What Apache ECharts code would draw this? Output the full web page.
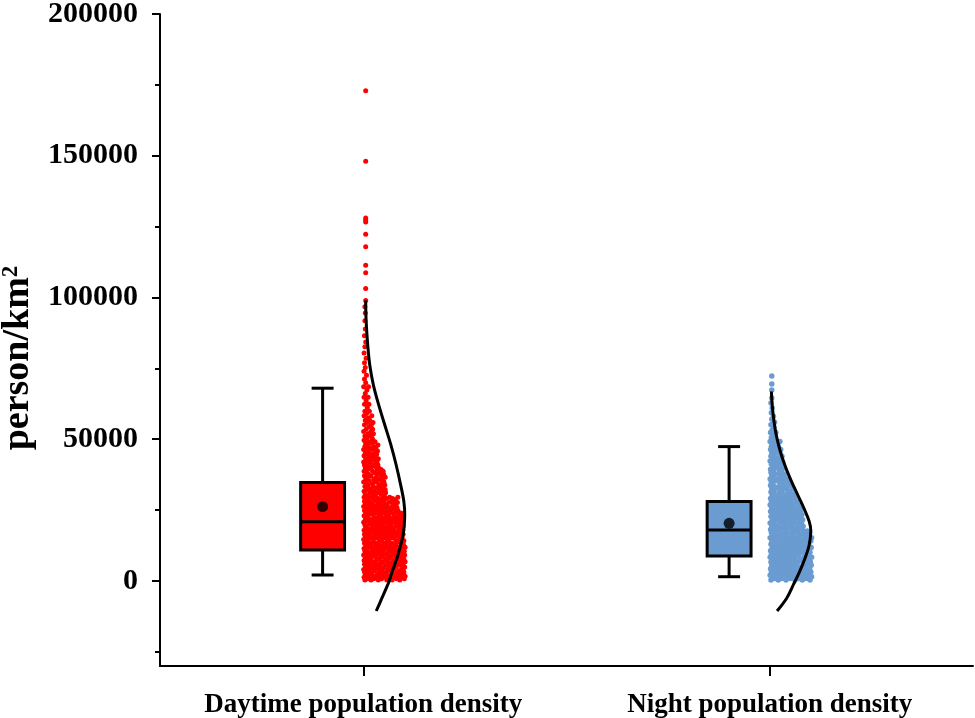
<!doctype html>
<html>
<head>
<meta charset="UTF-8">
<title>Population density</title>
<script src="https://cdn.jsdelivr.net/npm/echarts@6/dist/echarts.min.js"></script>
<style>
  html, body { margin: 0; padding: 0; background: #fff; }
  #main { width: 975px; height: 718px; }
</style>
</head>
<body>
<div id="main"></div>
<script>
// categories and summary stats (min, Q1, median, Q3, max)
var categories = ['Daytime population density', 'Night population density'];
var boxStats = [
  [2100, 10900, 20900, 34700, 68000],
  [1500, 8800, 18000, 28000, 47400]
];
var means = [26200, 20350];
var boxColors = ['#ff0000', '#6a9bd1'];
var yTicks = [0, 50000, 100000, 150000, 200000];
var yMinorTicks = [-25000, 25000, 75000, 125000, 175000];

// fitted curves: [offset from category centre in 1/1000 of a step, value]
var dayCurve = [
  [6, 98900], [7, 92000], [11, 83300], [16, 76200], [25, 69100], [38, 62100],
  [53, 55000], [68, 48000], [81, 40900], [92, 33900], [100, 27900], [102, 23000],
  [99, 17000], [93, 13200], [84, 8500], [71, 3200], [63, -350],
  [58, -2100], [44, -6700], [32, -10600]
];
var nightCurve = [
  [4, 66850], [6, 62100], [10, 56800], [16, 51500], [25, 46200], [37, 40900],
  [52, 35600], [69, 30300], [86, 25000], [97, 21000], [101, 17800],
  [97, 12700], [87, 8100], [74, 3500], [59, -1060], [42, -6000], [18, -10600]
];

// raw points, grouped by value: [value, [jitter offsets in 1/1000 of a step]]
var dayRows = [
  [380, [4, 19, 37, 58, 71, 90]], [820, [11, 26, 45, 63, 82, 101]],
  [1290, [2, 16, 33, 52, 77, 95]], [1700, [8, 29, 41, 66, 86, 103]],
  [2210, [5, 22, 48, 60, 79, 97]], [2650, [13, 35, 54, 72, 91]],
  [3120, [3, 18, 40, 57, 84, 100]], [3580, [9, 27, 46, 68, 88]],
  [4040, [1, 21, 38, 61, 75, 94]], [4490, [14, 31, 50, 70, 99]],
  [4960, [6, 24, 43, 64, 81, 102]], [5430, [10, 34, 55, 73, 92]],
  [5870, [3, 17, 39, 59, 85, 98]], [6340, [12, 28, 47, 67, 89]],
  [6800, [7, 23, 44, 62, 78, 103]], [7250, [2, 32, 53, 74, 93]],
  [7730, [15, 36, 56, 83, 100]], [8190, [5, 20, 42, 65, 80, 96]],
  [8640, [11, 30, 49, 69, 90]], [9120, [1, 25, 45, 60, 87, 102]],
  [9580, [8, 19, 38, 58, 76, 95]], [10030, [13, 33, 52, 71, 91]],
  [10490, [4, 27, 46, 66, 84, 101]], [10960, [9, 22, 41, 63, 79, 97]],
  [11420, [2, 35, 54, 73, 88]], [11880, [16, 29, 48, 68, 92, 103]],
  [12350, [6, 21, 43, 61, 82]], [12810, [10, 37, 57, 77, 99]],
  [13270, [3, 18, 31, 50, 70, 94]], [13740, [12, 26, 47, 64, 86]],
  [14200, [7, 40, 59, 80, 100]], [14660, [1, 23, 44, 62, 89]],
  [15130, [14, 32, 51, 72, 96]], [15590, [5, 20, 39, 58, 78, 93]],
  [16060, [10, 28, 48, 67, 85]], [16520, [3, 35, 55, 74, 98]],
  [16980, [15, 25, 42, 61, 81, 95]], [17450, [7, 30, 50, 69, 90]],
  [17910, [2, 19, 37, 57, 76, 97]], [18380, [12, 27, 46, 65, 87]],
  [18840, [6, 34, 53, 71, 92]], [19310, [9, 22, 41, 60, 80, 98]],
  [19770, [4, 31, 49, 68, 88]], [20240, [16, 24, 44, 63, 83, 96]],
  [20700, [1, 36, 56, 75, 91]], [21170, [11, 29, 47, 66, 86]],
  [21630, [5, 21, 40, 59, 79, 97]], [22100, [13, 33, 52, 73, 94]],
  [22560, [8, 26, 45, 64, 84]], [23030, [2, 38, 57, 77, 98]],
  [23490, [14, 23, 43, 61, 89]], [23960, [6, 30, 50, 70, 93]],
  [24420, [10, 19, 39, 58, 81]], [24890, [3, 27, 46, 67, 85]],
  [25350, [12, 35, 54, 76]], [25820, [7, 22, 41, 62, 83]],
  [26280, [1, 30, 49, 71]], [26750, [15, 25, 44, 58, 80]],
  [27210, [5, 36, 53, 74]], [27680, [10, 20, 40, 63, 84]],
  [28140, [3, 32, 50, 69]], [28610, [13, 26, 45, 79]],
  [29070, [8, 37, 57, 72]], [29540, [2, 21, 48, 65, 85]],
  [30010, [11, 30, 52]], [30560, [5, 24, 43]], [31100, [16, 35, 55]],
  [31650, [2, 27, 47]], [32190, [9, 20, 40, 54]], [32740, [14, 33, 50]],
  [33280, [4, 25, 44]], [33830, [12, 38, 53]], [34370, [7, 22, 46]],
  [34920, [1, 30, 51]], [35460, [15, 36, 48]], [36010, [6, 26, 42]],
  [36550, [10, 32, 54]], [37100, [3, 19, 45]], [37640, [13, 37, 50]],
  [38190, [8, 28, 41]], [38730, [2, 23, 49]], [39280, [11, 34, 44]],
  [39820, [5, 18, 38]], [40370, [14, 29]], [40910, [3, 22, 36]],
  [41460, [9, 31]], [42000, [1, 18, 34]], [42550, [12, 27]],
  [43090, [6, 21, 37]], [43640, [15, 30]], [44180, [2, 25]],
  [44730, [10, 19, 33]], [45270, [5, 28]], [45820, [13, 35]],
  [46360, [1, 23]], [46910, [8, 17, 31]], [47450, [4, 26]],
  [48000, [11, 36]], [48540, [6, 20]], [49090, [14, 29]], [49630, [2, 24]],
  [50300, [9, 22]], [51100, [4, 17]], [51900, [12, 25]], [52700, [1, 19]],
  [53500, [7, 23]], [54300, [14]], [55100, [3, 20]], [55900, [10, 24]],
  [56700, [5, 16]], [57500, [12]], [58300, [2, 21]], [59100, [8]],
  [59900, [4, 15]], [61200, [10]], [62300, [3, 14]], [63600, [7]],
  [64800, [2, 12]], [66100, [5]], [67400, [9]], [68500, [1, 13]],
  [69900, [6]], [71200, [3]], [72600, [8]], [74000, [2]], [75300, [5]],
  [77000, [3]], [78600, [7]], [80400, [2]], [82600, [4]], [84300, [6]],
  [86500, [3]], [88900, [5]], [91800, [4]], [94500, [5]], [96700, [4]],
  [98900, [6]], [103200, [6]], [108700, [6]], [111400, [6]], [117900, [6]],
  [122300, [6]], [126600, [6]], [127300, [6]], [128000, [6]], [148100, [6]],
  [172900, [6]]
];
var nightRows = [
  [350, [3, 21, 40, 62, 80, 99]], [900, [12, 30, 51, 71, 90]],
  [1480, [6, 24, 45, 57, 85, 103]], [2050, [1, 17, 36, 66, 78, 96]],
  [2630, [9, 28, 48, 60, 89]], [3200, [4, 20, 39, 73, 83, 101]],
  [3780, [14, 33, 53, 68, 93]], [4350, [2, 25, 43, 59, 80, 98]],
  [4930, [10, 31, 50, 74, 88]], [5500, [5, 19, 37, 64, 82, 102]],
  [6080, [15, 27, 46, 58, 92]], [6650, [3, 35, 55, 70, 86, 100]],
  [7230, [11, 22, 41, 63, 79, 95]], [7800, [7, 30, 52, 75, 90]],
  [8380, [1, 18, 38, 61, 84, 103]], [8950, [13, 26, 47, 67, 97]],
  [9530, [4, 34, 56, 72, 87]], [10100, [9, 21, 42, 60, 81, 99]],
  [10680, [2, 29, 49, 69, 91]], [11250, [16, 36, 54, 76, 94]],
  [11830, [6, 23, 44, 65, 83, 102]], [12400, [10, 32, 51, 71, 89]],
  [12980, [3, 19, 40, 58, 78, 96]], [13550, [14, 27, 47, 68, 93]],
  [14130, [5, 35, 55, 74, 86, 101]], [14700, [11, 24, 43, 62, 80]],
  [15280, [1, 30, 50, 70, 90, 103]], [15850, [8, 20, 39, 59, 77, 95]],
  [16430, [15, 33, 53, 73, 88]], [17000, [4, 26, 45, 64, 83, 98]],
  [17580, [12, 37, 56, 69, 92]], [18150, [2, 22, 41, 61, 80]],
  [18730, [9, 29, 48, 67, 75]], [19300, [5, 18, 36, 55, 82]],
  [19880, [13, 31, 50, 70]], [20450, [1, 25, 44, 63, 78]],
  [21030, [10, 34, 53, 72]], [21600, [6, 20, 39, 58, 81]],
  [22180, [15, 28, 47, 66]], [22750, [3, 35, 56, 74]],
  [23330, [11, 23, 42, 61, 79]], [23900, [7, 30, 51, 69]],
  [24480, [2, 19, 38, 57, 76]], [25050, [12, 27, 46, 65]],
  [25630, [5, 33, 52, 74]], [26200, [9, 21, 40, 60]],
  [26780, [1, 29, 48, 70]], [27350, [14, 36, 55]],
  [27930, [4, 24, 44, 66]], [28500, [10, 31, 51]],
  [29080, [2, 19, 39, 62]], [29650, [13, 27, 47]],
  [30230, [6, 35, 56]], [30800, [9, 22, 42, 60]], [31380, [3, 30, 49]],
  [31950, [11, 25, 45]], [32530, [5, 34, 57]], [33100, [14, 20, 41]],
  [33680, [2, 29, 52]], [34250, [8, 37]], [34830, [4, 23, 46]],
  [35400, [12, 31]], [35980, [1, 18, 42]], [36550, [9, 27]],
  [37130, [5, 35]], [37700, [13, 21, 38]], [38280, [3, 29]],
  [38850, [10, 24]], [39430, [2, 31]], [40000, [7, 18]], [40580, [12, 28]],
  [41150, [4, 22]], [41730, [9, 32]], [42300, [1, 17]], [42880, [14, 26]],
  [43450, [6, 20]], [44030, [3, 30]], [44600, [11]], [45180, [5, 24]],
  [45750, [8, 16]], [46330, [2, 27]], [46900, [13]], [47480, [4, 21]],
  [48050, [10]], [48630, [6, 18]], [49200, [1, 25]], [49780, [11]],
  [50600, [4, 13]], [51500, [8]], [52400, [2, 15]], [53300, [6]],
  [54200, [10]], [55100, [3]], [56000, [12]], [57000, [5]], [58100, [9]],
  [59300, [4]], [61000, [6]], [62800, [3]], [64500, [5]], [67400, [5]],
  [69500, [5]], [72300, [5]]
];

// category positions on the value x axis
var catPos = [1, 2];
var boxShift = -0.1;

function rowsToPoints(rows, c) {
  var out = [];
  rows.forEach(function (r) {
    r[1].forEach(function (j) { out.push([c + j / 1000, r[0]]); });
  });
  return out;
}
function curveToPoints(curve, c) {
  return curve.map(function (p) { return [c + p[0] / 1000, p[1]]; });
}

var boxData = boxStats.map(function (s, i) {
  return [catPos[i] + boxShift].concat(s);
});
var meanData = means.map(function (m, i) { return [catPos[i] + boxShift, m]; });

function renderBox(params, api) {
  var x = api.value(0);
  var yMin = api.coord([x, api.value(1)])[1];
  var yQ1 = api.coord([x, api.value(2)])[1];
  var yMed = api.coord([x, api.value(3)])[1];
  var yQ3 = api.coord([x, api.value(4)])[1];
  var yMax = api.coord([x, api.value(5)])[1];
  var cx = api.coord([x, 0])[0];
  var half = api.size([0.054, 0])[0];
  var cap = api.size([0.027, 0])[0];
  var ln = { stroke: '#000', lineWidth: 3 };
  return {
    type: 'group',
    children: [
      { type: 'line', shape: { x1: cx, y1: yMax, x2: cx, y2: yQ3 }, style: ln },
      { type: 'line', shape: { x1: cx, y1: yQ1, x2: cx, y2: yMin }, style: ln },
      { type: 'line', shape: { x1: cx - cap, y1: yMax, x2: cx + cap, y2: yMax }, style: ln },
      { type: 'line', shape: { x1: cx - cap, y1: yMin, x2: cx + cap, y2: yMin }, style: ln },
      { type: 'rect', shape: { x: cx - half, y: yQ3, width: half * 2, height: yQ1 - yQ3 },
        style: { fill: boxColors[params.dataIndex], stroke: '#000', lineWidth: 3 } },
      { type: 'line', shape: { x1: cx - half, y1: yMed, x2: cx + half, y2: yMed }, style: ln }
    ]
  };
}

// smooth curve drawn once from all of its points (no bbox clamp at the peak)
function curveSeries(points) {
  return {
    type: 'custom', data: points, z: 5,
    renderItem: function (params, api) {
      if (params.dataIndex !== 0) return;
      var pts = points.map(function (p) { return api.coord(p); });
      return {
        type: 'polyline',
        shape: { points: pts, smooth: 0.35 },
        style: { stroke: '#000', lineWidth: 3, fill: null }
      };
    }
  };
}

var font = 'Liberation Serif';
var chart = echarts.init(document.getElementById('main'));
chart.setOption({
  backgroundColor: '#fff',
  animation: false,
  grid: { left: 160, right: 2, top: 14, bottom: 52, containLabel: false, outerBoundsMode: 'none' },
  xAxis: {
    type: 'value', min: 0.5, max: 2.5,
    splitLine: { show: false },
    axisLine: { onZero: false, lineStyle: { color: '#000', width: 2 } },
    axisTick: { customValues: catPos, length: 10, lineStyle: { color: '#000', width: 2 } },
    axisLabel: {
      customValues: catPos, margin: 26,
      fontFamily: font, fontWeight: 'bold', fontSize: 27, color: '#000',
      formatter: function (v) { return categories[Math.round(v) - 1]; }
    }
  },
  yAxis: [{
    type: 'value', min: -30000, max: 200000,
    splitLine: { show: false },
    axisLine: { show: true, lineStyle: { color: '#000', width: 2 } },
    axisTick: { show: true, customValues: yTicks, length: 8, lineStyle: { color: '#000', width: 2 } },
    axisLabel: {
      customValues: yTicks, margin: 22, fontFamily: font, fontWeight: 'bold', fontSize: 30, color: '#000',
      formatter: function (v) { return String(v); }
    },
    name: 'person/km{s|2}',
    nameLocation: 'middle', nameRotate: 90, nameGap: 110,
    nameTextStyle: {
      fontFamily: font, fontWeight: 'bold', fontSize: 38, color: '#000', padding: [0, 36, 0, 0],
      rich: { s: { fontFamily: font, fontWeight: 'bold', fontSize: 23, color: '#000', verticalAlign: 'top', padding: [0, 0, 14, 0] } }
    }
  }, {
    type: 'value', min: -30000, max: 200000,
    position: 'left',
    splitLine: { show: false },
    axisLine: { show: false },
    axisTick: { show: true, customValues: yMinorTicks, length: 5, lineStyle: { color: '#000', width: 2 } },
    axisLabel: { show: false }
  }],
  series: [
    { type: 'custom', renderItem: renderBox, data: boxData, z: 2 },
    { type: 'scatter', data: meanData, symbolSize: 11, itemStyle: { color: '#000' }, z: 3 },
    { type: 'scatter', data: rowsToPoints(dayRows, catPos[0]), symbolSize: 5,
      itemStyle: { color: boxColors[0], opacity: 1 }, z: 4 },
    { type: 'scatter', data: rowsToPoints(nightRows, catPos[1]), symbolSize: 5.5,
      itemStyle: { color: boxColors[1], opacity: 1 }, z: 4 },
    curveSeries(curveToPoints(dayCurve, catPos[0])),
    curveSeries(curveToPoints(nightCurve, catPos[1]))
  ]
});
</script>
</body>
</html>
